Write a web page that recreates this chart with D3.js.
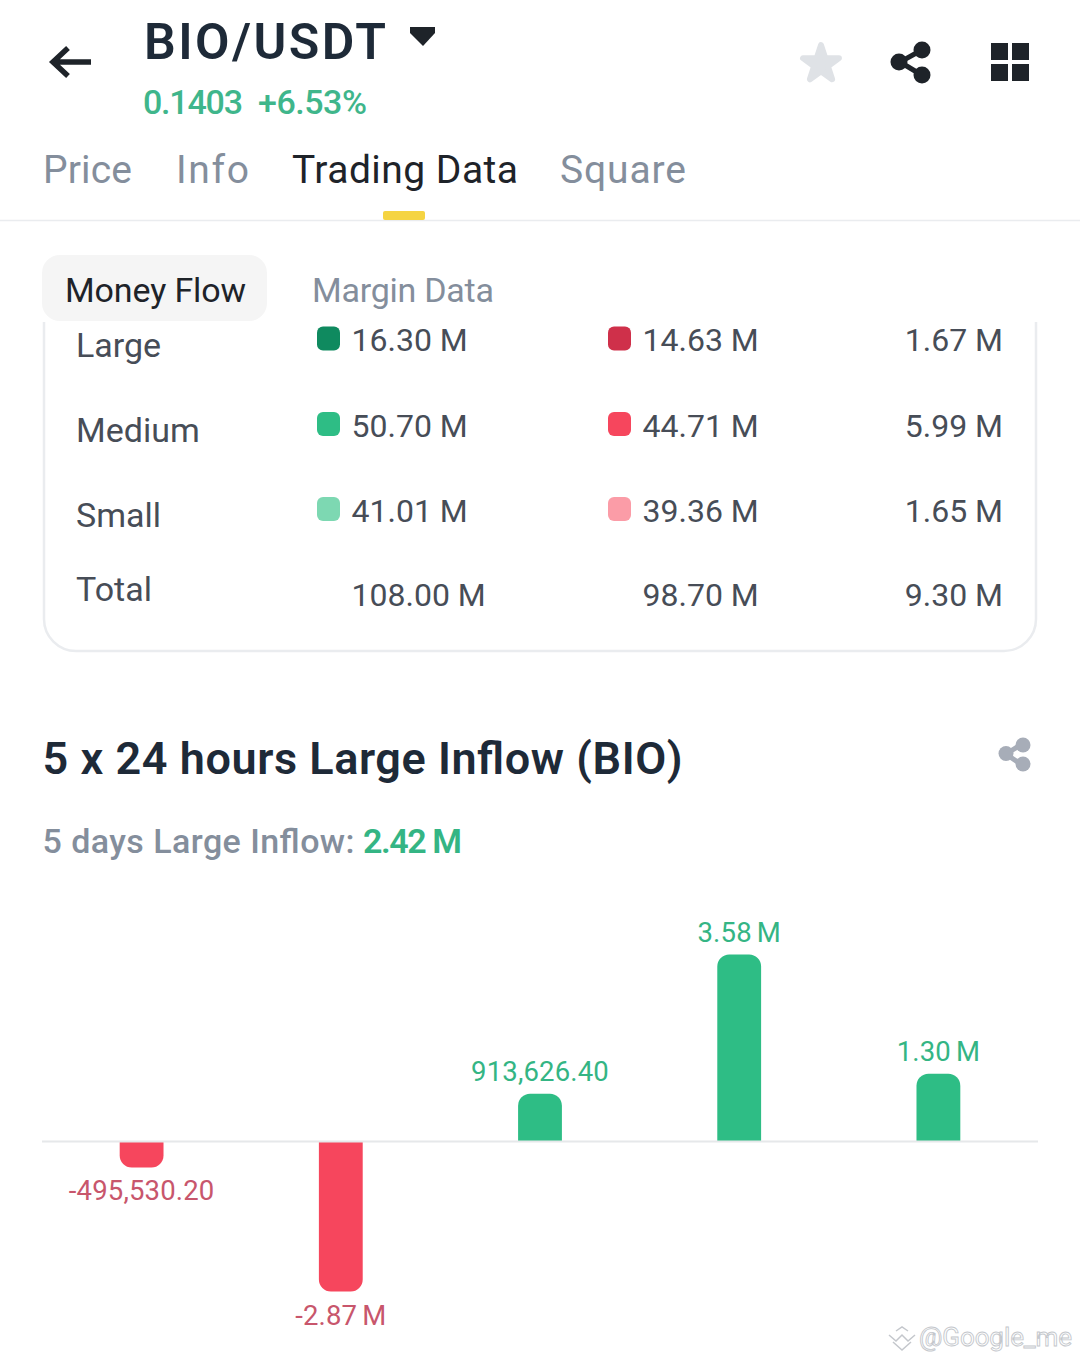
<!DOCTYPE html>
<html>
<head>
<meta charset="utf-8">
<script src="https://cdn.jsdelivr.net/npm/d3@7"></script>
<style>
body { margin: 0; background: #fff; }
text { font-family: Roboto, sans-serif; }
</style>
</head>
<body>
<svg id="chart" width="1080" height="1359"></svg>
<script>
const days = ["d1", "d2", "d3", "d4", "d5"]
const inflowValues = [-495530.20, -2870000, 913626.40, 3580000, 1300000]
const inflowLabels = ["-495,530.20", "-2.87 M", "913,626.40", "3.58 M", "1.30 M"]

const rowNames = ["Large", "Medium", "Small", "Total"]
const buyText = ["16.30 M", "50.70 M", "41.01 M", "108.00 M"]
const sellText = ["14.63 M", "44.71 M", "39.36 M", "98.70 M"]
const netText = ["1.67 M", "5.99 M", "1.65 M", "9.30 M"]
const buyColors = ["#0f8a5f", "#2ebd85", "#7dd8b2"]
const sellColors = ["#cf304a", "#f6465d", "#fb9ca7"]

const dark = "#1e2329"
const grey = "#848e9c"
const green = "#34b584"
const red = "#c8566c"

const svg = d3.select("#chart")

// text helper, width is the measured width in the picture
const label = (x, y, str, size, fill, weight, width, anchor) => {
    const t = svg.append("text")
        .attr("x", x)
        .attr("y", y)
        .attr("font-size", size)
        .attr("font-weight", weight || 400)
        .attr("fill", fill)
        .attr("text-anchor", anchor || "start")
        .text(str)
    if (width) t.attr("textLength", width).attr("lengthAdjust", "spacing")
    return t
}

// header
svg.append("path")
    .attr("d", "M91 62H54M68 48L53 62L68 76")
    .attr("fill", "none")
    .attr("stroke", dark)
    .attr("stroke-width", 5.5)
label(144, 59, "BIO/USDT", 50, "#1e2a38", 600, 242)
svg.append("path")
    .attr("d", "M410 27H435V33L423 46L410 33Z")
    .attr("fill", dark)
label(143, 114, "0.1403", 34, "#3fb68b", 500, 100)
label(258, 114, "+6.53%", 34, "#3fb68b", 500, 109)

svg.append("path")
    .attr("transform", "translate(821,64)")
    .attr("d", d3.symbol(d3.symbolStar, 400))
    .attr("fill", "#dfe2e6")
    .attr("stroke", "#dfe2e6")
    .attr("stroke-width", 6)
    .attr("stroke-linejoin", "round")

svg.append("path")
    .attr("d", "M920 51L900 62L920 74")
    .attr("fill", "none")
    .attr("stroke", dark)
    .attr("stroke-width", 5)
svg.selectAll(".shareDot")
    .data([[922, 50], [899, 62], [922, 75]])
    .enter()
    .append("circle")
    .attr("cx", d => d[0])
    .attr("cy", d => d[1])
    .attr("r", 8.5)
    .attr("fill", dark)

svg.selectAll(".gridCell")
    .data([[991, 43], [1012, 43], [991, 64], [1012, 64]])
    .enter()
    .append("rect")
    .attr("x", d => d[0])
    .attr("y", d => d[1])
    .attr("width", 17)
    .attr("height", 17)
    .attr("fill", dark)

// tabs
label(43, 183, "Price", 39, grey, 450, 89)
label(176, 183, "Info", 39, grey, 450, 73)
label(292, 183, "Trading Data", 39, dark, 450, 226)
label(560, 183, "Square", 39, grey, 450, 126)
svg.append("line")
    .attr("x1", 0).attr("x2", 1080)
    .attr("y1", 220.5).attr("y2", 220.5)
    .attr("stroke", "#eaecef")
    .attr("stroke-width", 1.5)
svg.append("rect")
    .attr("x", 383).attr("y", 211)
    .attr("width", 42).attr("height", 9)
    .attr("rx", 2)
    .attr("fill", "#f5d442")

// table card, open at the top
svg.append("path")
    .attr("d", "M44 322V619A32 32 0 0 0 76 651H1004A32 32 0 0 0 1036 619V322")
    .attr("fill", "none")
    .attr("stroke", "#eaecef")
    .attr("stroke-width", 2.5)

svg.append("rect")
    .attr("x", 42).attr("y", 255)
    .attr("width", 225).attr("height", 66)
    .attr("rx", 18)
    .attr("fill", "#f5f5f5")
label(65, 302, "Money Flow", 34, dark, 400, 181)
label(312, 302, "Margin Data", 34, grey, 400, 182)

const labelY = d3.scaleOrdinal().domain(rowNames).range([357, 442, 527, 601])
const valueY = d3.scaleOrdinal().domain(rowNames).range([351, 436.5, 521.5, 606])

rowNames.forEach((name, i) => {
    label(76, labelY(name), name, 34, "#474d57", 400)
    label(351.5, valueY(name), buyText[i], 32, "#474d57", 400)
    label(642.5, valueY(name), sellText[i], 32, "#474d57", 400)
    label(1003, valueY(name), netText[i], 32, "#474d57", 400, null, "end")
    if (i < 3) {
        svg.append("rect")
            .attr("x", 317).attr("y", valueY(name) - 24.5)
            .attr("width", 23).attr("height", 24)
            .attr("rx", 6)
            .attr("fill", buyColors[i])
        svg.append("rect")
            .attr("x", 608).attr("y", valueY(name) - 24.5)
            .attr("width", 23).attr("height", 24)
            .attr("rx", 6)
            .attr("fill", sellColors[i])
    }
})

// chart heading
label(42.5, 773.5, "5 x 24 hours Large Inflow (BIO)", 45, "#1e2a38", 600, 640)
label(42.5, 853, "5 days Large Inflow:", 34, grey, 500, 312)
label(363, 853, "2.42 M", 34, green, 600, 99)

svg.append("path")
    .attr("d", "M1022 744L1006 754L1022 765")
    .attr("fill", "none")
    .attr("stroke", "#a7adb8")
    .attr("stroke-width", 5)
svg.selectAll(".shareDot2")
    .data([[1023, 745], [1006, 753.5], [1023, 764]])
    .enter()
    .append("circle")
    .attr("cx", d => d[0])
    .attr("cy", d => d[1])
    .attr("r", 7.5)
    .attr("fill", "#a7adb8")

// bars
const xScale = d3.scaleBand()
    .domain(days)
    .range([42, 1038])
    .paddingInner(0.78)
    .paddingOuter(0.39)

const yScale = d3.scaleLinear()
    .domain([-2870000, 3580000])
    .range([1291.5, 954.5])

const zeroY = yScale(0)

const barPath = d => {
    const x0 = xScale(d.day)
    const x1 = x0 + xScale.bandwidth()
    const y = yScale(d.value)
    const r = 12 * (d.value > 0 ? 1 : -1)
    const sweep = d.value > 0 ? 1 : 0
    return `M${x0} ${zeroY}V${y + r}A12 12 0 0 ${sweep} ${x0 + 12} ${y}H${x1 - 12}A12 12 0 0 ${sweep} ${x1} ${y + r}V${zeroY}Z`
}

const bars = days.map((day, i) => ({ day, value: inflowValues[i], text: inflowLabels[i] }))

svg.selectAll(".bar")
    .data(bars)
    .enter()
    .append("path")
    .attr("class", "bar")
    .attr("d", barPath)
    .attr("fill", d => d.value > 0 ? "#2ebd85" : "#f6465d")

svg.append("line")
    .attr("x1", 42).attr("x2", 1038)
    .attr("y1", zeroY).attr("y2", zeroY)
    .attr("stroke", "#e6e8ea")
    .attr("stroke-width", 2)

svg.selectAll(".barLabel")
    .data(bars)
    .enter()
    .append("text")
    .attr("class", "barLabel")
    .attr("x", d => xScale(d.day) + xScale.bandwidth() / 2)
    .attr("y", d => d.value > 0 ? yScale(d.value) - 12.5 : yScale(d.value) + 33)
    .attr("text-anchor", "middle")
    .attr("font-size", 27.5)
    .attr("letter-spacing", 0.15)
    .attr("word-spacing", -2)
    .attr("fill", d => d.value > 0 ? green : red)
    .text(d => d.text)

// watermark
svg.append("path")
    .attr("d", "M889 1335L896 1341L902 1335L908 1341L915 1335M893 1342L902 1350L911 1342M896 1331L902 1327L908 1331")
    .attr("fill", "none")
    .attr("stroke", "#c4c7cc")
    .attr("stroke-width", 1.5)
label(919, 1346, "@Google_me", 26, "#fff", 400, 153)
    .attr("stroke", "#c4c7cc")
    .attr("stroke-width", 0.9)
</script>
</body>
</html>
